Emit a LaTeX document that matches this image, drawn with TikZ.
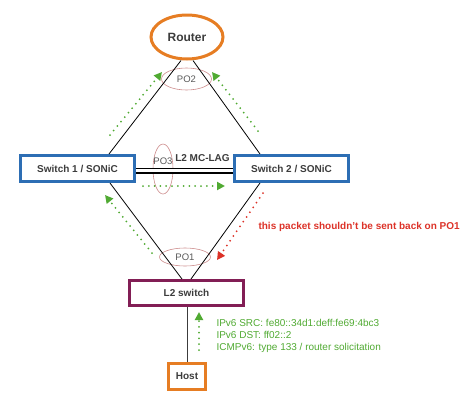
\documentclass[tikz,border=0pt]{standalone}
\usepackage{fontspec}
\setmainfont{Liberation Sans}
\usetikzlibrary{calc,shapes.geometric,arrows.meta}
\definecolor{lag@blue}{RGB}{45,110,180}
\definecolor{lag@orange}{RGB}{230,125,35}
\definecolor{lag@plum}{RGB}{130,30,85}
\definecolor{lag@green}{RGB}{80,170,50}
\definecolor{lag@red}{RGB}{220,50,40}
\definecolor{lag@ring}{RGB}{205,140,140}
\definecolor{lag@text}{RGB}{60,60,60}

\tikzset{
  devbox/.style={draw, line width=3pt, fill=white, inner sep=0pt, text=lag@text,
    font=\bfseries\fontsize{10}{12}\selectfont},
  poring/.style={ellipse, draw=lag@ring, line width=0.6pt, inner sep=0pt, text=lag@text!85,
    font=\fontsize{9.5}{11}\selectfont},
  link/.style={line width=0.8pt, black},
  flow/.style={line width=2pt, dash pattern=on 0pt off 5.8pt, line cap=round,
    -{Triangle[length=8pt,width=8pt]}},
}

\begin{document}
\begin{tikzpicture}[x=1pt,y=-1pt]
\useasboundingbox (0,0) rectangle (474,410);

% PO rings
\node[poring, minimum width=50, minimum height=22] (po2) at (186.5,79) {PO2};
\node[poring, minimum width=51, minimum height=18] (po1) at (185,257) {PO1};
\node[poring, minimum width=20, minimum height=50] (po3) at (163,169) {};
\node[text=lag@text!85, font=\fontsize{9.5}{11}\selectfont] (po3label) at (163,161) {PO3};

% devices
\node[devbox, ellipse, draw=lag@orange, minimum width=72, minimum height=44,
  font=\bfseries\fontsize{12}{14}\selectfont] (router) at (187,37) {Router};
\node[devbox, draw=lag@blue, minimum width=114, minimum height=26] (sw1) at (77.5,168.5) {Switch 1 / SONiC};
\node[devbox, draw=lag@blue, minimum width=114, minimum height=26] (sw2) at (291.5,168.5) {Switch 2 / SONiC};
\node[devbox, draw=lag@plum, minimum width=114, minimum height=25] (l2) at (186.5,293) {L2 switch};
\node[devbox, draw=lag@orange, minimum width=37, minimum height=26] (host) at (187,376.5) {Host};

% links
\draw[link] ($(router.south)+(-6,0)$) -- ($(sw1.north east)+(-27,0)$);
\draw[link] ($(router.south)+(6,0)$) -- ($(sw2.north west)+(27,0)$);
\draw[link] ($(sw1.south east)+(-26,0)$) -- ($(l2.north)+(-4.5,0)$);
\draw[link] ($(sw2.south west)+(27,0)$) -- ($(l2.north)+(4.5,0)$);
\draw[double, line width=1.8pt, double distance=2.4pt] ($(sw1.east)+(0,2)$) -- ($(sw2.west)+(0,2)$);
\draw[line width=1pt, lag@text] (host.north |- l2.south) -- (host.north);
\node[text=lag@text, font=\bfseries\fontsize{10}{12}\selectfont] (mclag) at (202.5,158) {L2 MC-LAG};

% packet flow
\coordinate (s1up) at (110,135);
\coordinate (s1top) at (162,72);
\coordinate (s2up) at (258,131);
\coordinate (s2top) at (212,72);
\coordinate (lagin) at (143,186);
\coordinate (lagout) at (225,186);
\coordinate (po1up) at (152,253);
\coordinate (s1bot) at (105,195);
\coordinate (s2bot) at (263,193);
\coordinate (po1back) at (217,260);
\coordinate (hostup) at (199,350);
\coordinate (l2bot) at (199,312);

\draw[flow, lag@green] (s1up) -- (s1top);
\draw[flow, lag@green] (s2up) -- (s2top);
\draw[flow, lag@green] (lagin) -- (lagout);
\draw[flow, lag@green] (po1up) -- (s1bot);
\draw[flow, lag@green] (hostup) -- (l2bot);
\draw[flow, lag@red] (s2bot) -- (po1back);

\node[anchor=base west, text=lag@red, font=\bfseries\fontsize{10}{12}\selectfont] (note) at (255,229.5)
  {this packet shouldn't be sent back on PO1};

% router solicitation
\node[anchor=base west, text=lag@green, font=\fontsize{10}{12}\selectfont] (src) at (213,326.5)
  {IPv6 SRC: fe80::34d1:deff:fe69:4bc3};
\node[anchor=base west, text=lag@green, font=\fontsize{10}{12}\selectfont] (dst) at ($(src.base west)+(0,12)$)
  {IPv6 DST: ff02::2};
\node[anchor=base west, text=lag@green, font=\fontsize{10}{12}\selectfont] (icmp) at ($(dst.base west)+(0,12)$)
  {ICMPv6: type 133 / router solicitation};

\end{tikzpicture}
\end{document}
